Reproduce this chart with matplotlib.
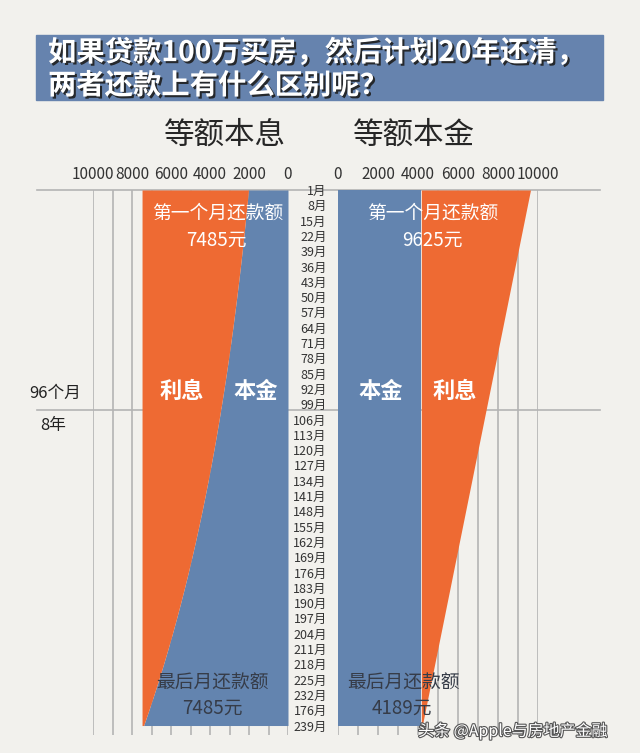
import matplotlib
matplotlib.use("Agg")
import matplotlib.pyplot as plt
import matplotlib.patheffects as pe
from matplotlib.patches import Rectangle

plt.rcParams['font.family'] = ['Noto Sans CJK SC', 'DejaVu Sans']

# row labels as printed in the original (typos included)
month_labels = ["1月", "8月", "15月", "22月", "39月", "36月", "43月", "50月", "57月",
                "64月", "71月", "78月", "85月", "92月", "99月", "106月", "113月", "120月",
                "127月", "134月", "141月", "148月", "155月", "162月", "169月", "176月",
                "183月", "190月", "197月", "204月", "211月", "218月", "225月", "232月",
                "176月", "239月"]
rows = list(range(len(month_labels)))

# 等额本息: constant payment, principal part grows (one value per row)
benxi_payment = 7485
benxi_principal = [2027, 2103, 2183, 2265, 2350, 2439, 2531, 2627, 2726, 2828, 2935,
                   3046, 3161, 3280, 3404, 3532, 3665, 3803, 3947, 4096, 4250, 4410,
                   4577, 4749, 4928, 5114, 5307, 5507, 5715, 5930, 6154, 6386, 6627,
                   6877, 7136, 7405]

# 等额本金: constant principal, interest falls (one value per row)
benjin_principal = 4167
benjin_interest = [5458, 5303, 5149, 4994, 4840, 4685, 4530, 4376, 4221, 4067, 3912,
                   3758, 3603, 3448, 3294, 3139, 2985, 2830, 2675, 2521, 2366, 2212,
                   2057, 1902, 1748, 1593, 1439, 1284, 1130, 975, 820, 666, 511, 357,
                   202, 48]

x_ticks = [0, 2000, 4000, 6000, 8000, 10000]

orange = '#ee6a33'
blue = '#6384af'
gridc = '#b4b4b4'
bgc = '#f2f1ed'
dark = '#363c48'

W, H = 640, 753
fig = plt.figure(figsize=(6.4, 7.53), dpi=100, facecolor=bgc)

# background layer in pixel coords
bg = fig.add_axes([0, 0, 1, 1])
bg.set_xlim(0, W)
bg.set_ylim(H, 0)
bg.axis('off')

bg.add_patch(Rectangle((36, 35), 567, 65, color='#6683ae'))
shadow = [pe.withSimplePatchShadow(offset=(1.5, -1.5), shadow_rgbFace='#1e1e1e', alpha=0.9)]
bg.text(48, 53, "如果贷款100万买房，然后计划20年还清，", color='white', fontsize=20.4,
        fontweight='bold', va='center', ha='left', path_effects=shadow)
bg.text(48, 86, "两者还款上有什么区别呢？", color='white', fontsize=20.4,
        fontweight='bold', va='center', ha='left', path_effects=shadow)

bg.text(225, 135, "等额本息", fontsize=22, color='#262626', ha='center', va='center')
bg.text(414, 135, "等额本金", fontsize=22, color='#262626', ha='center', va='center')

bg.plot([37, 600], [190, 190], color=gridc, lw=1.2)
bg.plot([37, 600], [410, 410], color=gridc, lw=1.2)
bg.text(55, 393, "96个月", fontsize=12, color='#222', ha='center', va='center')
bg.text(53, 425, "8年", fontsize=12, color='#222', ha='center', va='center')


def px_box(x0, x1, y0, y1):
    return [x0 / W, 1 - y1 / H, (x1 - x0) / W, (y1 - y0) / H]


def style_panel(ax):
    ax.patch.set_alpha(0)
    for s in ax.spines.values():
        s.set_visible(False)
    ax.set_ylim(35.62, 0)
    ax.xaxis.tick_top()
    ax.set_xticks(x_ticks)
    ax.set_xticks(range(0, 10001, 1000), minor=True)
    ax.grid(True, which='both', axis='x', color=gridc, lw=1.2)
    ax.set_axisbelow(True)
    ax.tick_params(axis='x', which='both', length=0, pad=5, labelsize=11, labelcolor='#333')


# left panel: 等额本息
axL = fig.add_axes(px_box(93, 288, 190, 735))
style_panel(axL)
axL.set_xlim(10000, 0)
axL.set_yticks([])
axL.fill_betweenx(rows, 0, benxi_principal, color=blue, lw=0)
axL.fill_betweenx(rows, benxi_principal, benxi_payment, color=orange, lw=0)

# right panel: 等额本金
axR = fig.add_axes(px_box(338, 538, 190, 735))
style_panel(axR)
axR.set_xlim(0, 10000)
benjin_total = [benjin_principal + v for v in benjin_interest]
axR.fill_betweenx(rows, 0, benjin_principal, color=blue, lw=0)
axR.fill_betweenx(rows, benjin_principal, benjin_total, color=orange, lw=0)
axR.set_yticks(rows)
axR.set_yticklabels(month_labels)
axR.tick_params(axis='y', length=0, pad=8, labelsize=9, labelcolor='#333')


# labels on the bars (figure level so they sit above the panels)
def ftext(x, y, s, **kw):
    fig.text(x / W, 1 - y / H, s, ha='center', va='center', **kw)


ftext(218, 213, "第一个月还款额", fontsize=13.5, color='white')
ftext(216, 240, "7485元", fontsize=13.5, color='white')
ftext(433, 213, "第一个月还款额", fontsize=13.5, color='white')
ftext(432, 240, "9625元", fontsize=13.5, color='white')

ftext(182, 391, "利息", fontsize=16, color='white', fontweight='bold')
ftext(256, 391, "本金", fontsize=16, color='white', fontweight='bold')
ftext(381, 391, "本金", fontsize=16, color='white', fontweight='bold')
ftext(455, 391, "利息", fontsize=16, color='white', fontweight='bold')

ftext(212, 683, "最后月还款额", fontsize=13.5, color=dark)
ftext(212, 708, "7485元", fontsize=13.5, color=dark)
ftext(403, 683, "最后月还款额", fontsize=13.5, color=dark)
ftext(402, 708, "4189元", fontsize=13.5, color=dark)

fig.text(608 / W, 1 - 731 / H, "头条 @Apple与房地产金融", fontsize=11.5, color='white',
         ha='right', va='center',
         path_effects=[pe.withStroke(linewidth=1.6, foreground='#555555')])

fig.savefig("out.png", dpi=100, facecolor=bgc)
